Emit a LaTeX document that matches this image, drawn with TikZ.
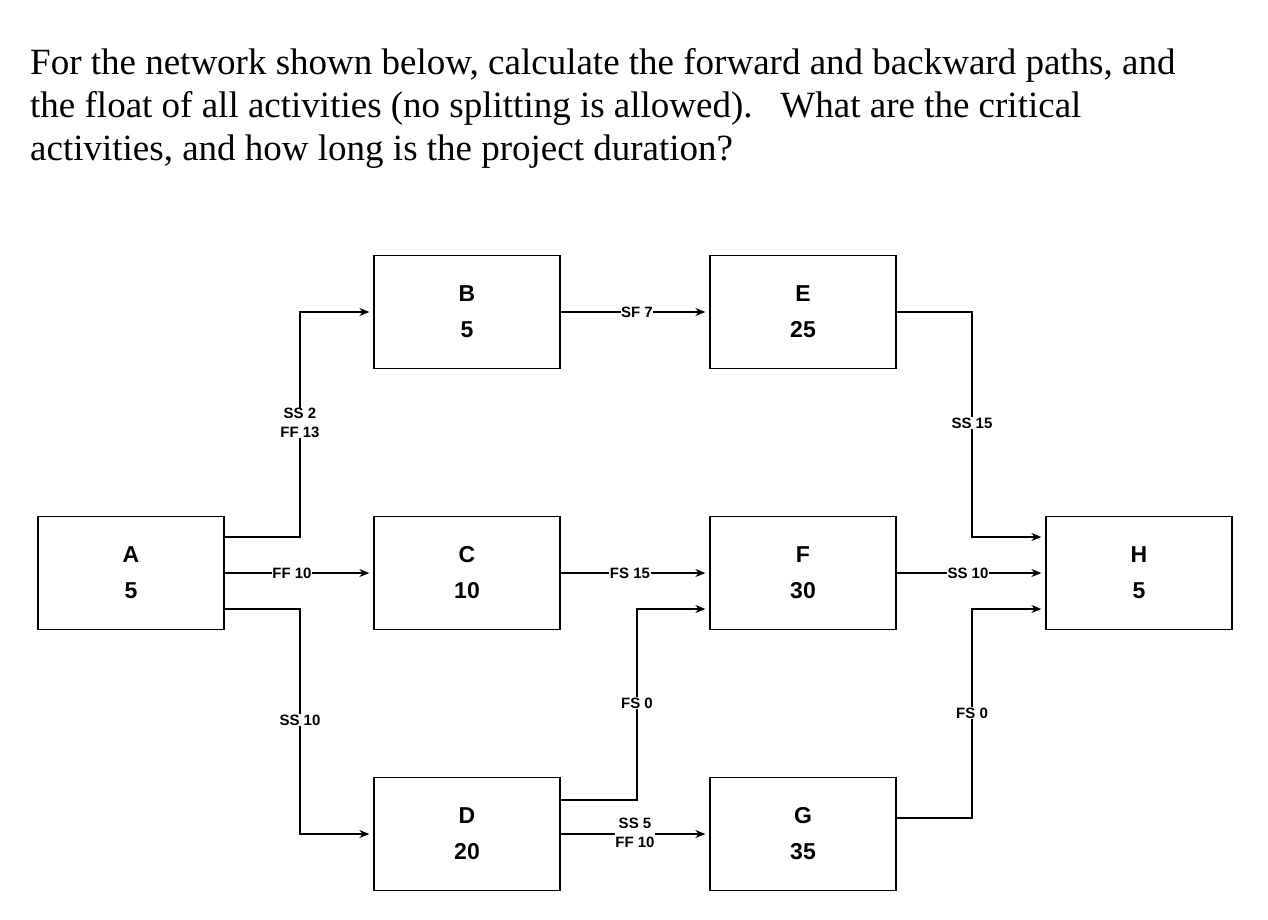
\documentclass[tikz,border=0pt]{standalone}
\usepackage{fontspec}
\setmainfont{Liberation Serif}
\newfontfamily\lab{Liberation Sans}
\usetikzlibrary{arrows.meta}
\begin{document}
\begin{tikzpicture}[x=1pt,y=-1pt,
 box/.style={draw,line width=1.3pt,minimum width=186pt,minimum height=113pt,inner sep=0pt,align=center,font=\lab\bfseries\fontsize{23}{36}\selectfont},
 ln/.style={line width=1.2pt},
 ar/.style={ln,-{Stealth[length=10pt,width=8pt]},shorten >=4pt},
 lb/.style={fill=white,inner sep=0.5pt,align=center,font=\lab\bfseries\fontsize{15}{19}\selectfont}]
\useasboundingbox (0,0) rectangle (1268,920);
\node[anchor=north west,align=left,inner sep=0pt,font=\fontsize{37}{43}\selectfont] (t) at (30,48)
 {For the network shown below, calculate the forward and backward paths, and\\
 the float of all activities (no splitting is allowed).\ \ \ What are the critical\\
 activities, and how long is the project duration?};
\node[box] (A) at (131,573) {A\\5};
\node[box] (B) at (467,312) {B\\5};
\node[box] (C) at (467,573) {C\\10};
\node[box] (D) at (467,834) {D\\20};
\node[box] (E) at (803,312) {E\\25};
\node[box] (F) at (803,573) {F\\30};
\node[box] (G) at (803,834) {G\\35};
\node[box] (H) at (1139,573) {H\\5};
\draw[ar] (A.east|-0,537) -| (300,423) |- (B.west);
\node[lb] (l1) at (300,423) {SS 2\\FF 13};
\draw[ar] (A) -- (C);
\node[lb] (l2) at (292,573) {FF 10};
\draw[ar] (A.east|-0,609) -| (300,720) |- (D.west);
\node[lb] (l3) at (300,720) {SS 10};
\draw[ar] (B) -- (E);
\node[lb] (l4) at (637,312) {SF 7};
\draw[ar] (C) -- (F);
\node[lb] (l5) at (630,573) {FS 15};
\draw[ar] (D.east|-0,800) -| (637,703) |- (F.west|-0,609);
\node[lb] (l6) at (637,703) {FS 0};
\draw[ar] (D) -- (G);
\node[lb] (l7) at (635,833) {SS 5\\FF 10};
\draw[ar] (E) -| (972,423) |- (H.west|-0,537);
\node[lb] (l8) at (972,423) {SS 15};
\draw[ar] (F) -- (H);
\node[lb] (l9) at (968,573) {SS 10};
\draw[ar] (G.east|-0,818) -| (972,713) |- (H.west|-0,609);
\node[lb] (l10) at (972,713) {FS 0};
\end{tikzpicture}
\end{document}
